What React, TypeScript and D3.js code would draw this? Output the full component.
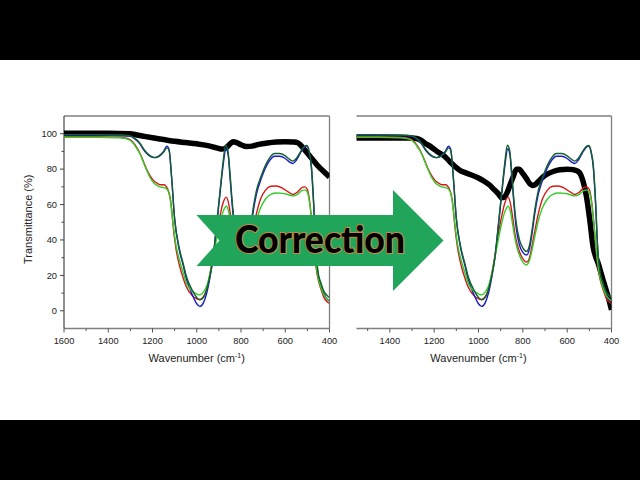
import React from 'react';
import * as d3 from 'd3';

// ---- tick labels ----
const xMajorTicks = [1600, 1400, 1200, 1000, 800, 600, 400];
const xMinorTicks = [1500, 1300, 1100, 900, 700, 500];
const yMajorTicks = [0, 20, 40, 60, 80, 100];
const yMinorTicks = [10, 30, 50, 70, 90];

// ---- series: [wavenumber, transmittance] ----
const darkGreen: [number, number][] = [
  [1600, 99.5], [1450, 99.5], [1350, 99.3], [1300, 98.8], [1280, 97.5], [1257, 94.7], [1235, 90.5], [1210, 87.5],
  [1190, 86.5], [1170, 87.2], [1150, 89.5], [1135, 92], [1125, 90.5], [1114, 76], [1100, 52], [1080, 36], [1060, 26],
  [1047, 19.5], [1020, 11.5], [1000, 7.5], [986, 6.2], [970, 7.5], [955, 12], [940, 20], [926, 30], [911, 48],
  [896, 66], [881, 84], [870, 93.5], [860, 91], [850, 78], [840, 62], [830, 50], [815, 40], [800, 35.5], [783, 33.5],
  [770, 37], [758, 46], [746, 57], [730, 68], [709, 76], [690, 82], [670, 86.5], [648, 88.8], [625, 88.8], [600, 87.5],
  [580, 85.5], [566, 84.5], [550, 86], [530, 90], [512, 93], [502, 93.3], [492, 90], [482, 82], [472, 62], [462, 35],
  [452, 22], [438, 15.5], [423, 10.5], [410, 8.5], [400, 7.5],
];
const blue: [number, number][] = [
  [1600, 99.2], [1450, 99.2], [1350, 99], [1300, 98.5], [1280, 97], [1257, 94.3], [1235, 90], [1210, 87.2],
  [1190, 86.5], [1170, 87.5], [1150, 90], [1135, 93], [1125, 91], [1114, 76], [1100, 52], [1080, 35], [1060, 25],
  [1047, 18], [1020, 9], [1000, 4], [986, 2.5], [970, 4.5], [955, 10], [940, 19], [926, 30], [911, 47], [896, 65],
  [881, 82], [868, 91.5], [858, 88], [850, 76], [840, 60], [830, 47], [815, 37], [800, 33], [783, 31.5], [770, 35],
  [758, 44], [746, 55], [730, 66], [709, 74.5], [690, 80.5], [670, 85], [648, 87.3], [625, 87.3], [600, 86],
  [580, 84], [566, 83.2], [550, 85], [530, 89.5], [512, 92.5], [502, 93], [492, 89.5], [482, 81], [472, 61],
  [462, 34], [452, 21], [438, 14], [423, 9], [410, 6.5], [400, 5.5],
];
const red: [number, number][] = [
  [1600, 98.3], [1450, 98.3], [1350, 98], [1310, 97.2], [1290, 95.5], [1270, 92], [1257, 89], [1240, 84], [1227, 80],
  [1210, 76], [1195, 73.5], [1182, 72.3], [1165, 71.2], [1148, 71.2], [1140, 70.5], [1132, 69], [1122, 65],
  [1114, 58], [1107, 48], [1095, 36], [1077, 25], [1060, 18], [1047, 13.6], [1020, 8.5], [1000, 6.8], [986, 6.4],
  [970, 8], [955, 12], [940, 21], [926, 31], [911, 43], [896, 53], [881, 61], [866, 64.2], [855, 60], [845, 52],
  [835, 43], [820, 35], [800, 29.5], [783, 27.5], [770, 30], [758, 37], [746, 45], [730, 55], [712, 63], [690, 68],
  [665, 70.3], [640, 70.5], [610, 69], [585, 67], [565, 65.7], [545, 67], [525, 69.5], [512, 70], [500, 68.5],
  [490, 62], [480, 50], [470, 35], [460, 24], [450, 17], [438, 12], [423, 7], [410, 5], [400, 4.2],
];
const lightGreen: [number, number][] = [
  [1600, 98], [1450, 98], [1350, 97.7], [1310, 96.8], [1290, 95], [1270, 91.5], [1257, 88.7], [1240, 83.5],
  [1227, 79.6], [1210, 75], [1195, 72.3], [1182, 71], [1165, 70], [1148, 69.5], [1135, 68.7], [1127, 67],
  [1120, 63], [1113, 56], [1107, 49.5], [1095, 38], [1077, 28], [1060, 21], [1047, 15.7], [1020, 11], [1000, 9.5],
  [986, 9], [970, 10.5], [955, 14], [940, 21], [926, 30], [911, 40], [896, 49], [881, 56], [866, 59], [855, 55.5],
  [845, 48], [835, 40.5], [820, 33], [800, 27.5], [783, 25.9], [770, 28.5], [758, 34.5], [746, 42], [730, 51],
  [712, 58], [690, 63], [665, 65.8], [640, 66.5], [610, 66.3], [585, 65.5], [565, 64.9], [545, 65.8], [525, 67.8],
  [512, 68.3], [500, 67], [490, 61], [480, 50], [470, 36], [460, 25], [450, 18], [438, 13], [423, 8.5], [410, 6.5],
  [400, 5.5],
];
const blackBefore: [number, number][] = [
  [1600, 100.2], [1400, 100.2], [1300, 100], [1270, 99.3], [1240, 98.6], [1200, 97.7], [1150, 96.7], [1100, 95.7],
  [1050, 95], [1000, 94.3], [950, 93.3], [910, 92], [885, 91.3], [865, 92.3], [850, 94.2], [835, 95.5], [820, 95],
  [800, 93.8], [775, 92.8], [750, 93], [720, 94], [680, 94.8], [640, 95.3], [600, 95.5], [565, 95.3], [545, 95],
  [530, 93.5], [510, 90.5], [490, 87.5], [475, 85.3], [450, 81.5], [425, 78.5], [400, 75.5],
];
const blackAfter: [number, number][] = [
  [1600, 97.6], [1400, 97.6], [1300, 97.6], [1280, 97.3], [1260, 96.3], [1240, 94.5], [1219, 93], [1200, 91.2],
  [1175, 89], [1160, 88], [1130, 84.3], [1100, 80.8], [1084, 79.3], [1060, 78], [1039, 77], [1000, 75], [979, 73.5],
  [950, 71], [934, 69], [910, 66], [896, 63.8], [885, 64], [870, 67], [855, 72], [844, 75.5], [829, 80], [817, 80],
  [800, 77.5], [783, 74.5], [770, 72], [758, 70.8], [745, 71.2], [730, 73], [710, 75.5], [693, 77], [660, 78.8],
  [633, 79.6], [600, 80], [573, 79.7], [555, 79], [543, 77.8], [528, 73], [513, 64.5], [498, 51.3], [483, 36.2],
  [470, 30], [460, 26.8], [450, 22.5], [438, 17.4], [415, 7.9], [400, 0.5],
];

const colored = [
  { name: 'red', data: red, color: '#d81818' },
  { name: 'blue', data: blue, color: '#1a1acc' },
  { name: 'lightGreen', data: lightGreen, color: '#33cc2a' },
  { name: 'darkGreen', data: darkGreen, color: '#14602a' },
];

const TOP = 116;
const BOTTOM = 328.5;
const FONT = '"Liberation Sans", Arial, sans-serif';

type PanelProps = {
  id: string;
  x0: number;
  x1: number;
  clipX: number;
  black: [number, number][];
  yAxis: boolean;
  labelTicks: number[];
};

function Panel({ id, x0, x1, clipX, black, yAxis, labelTicks }: PanelProps) {
  const x = d3.scaleLinear().domain([1600, 400]).range([x0, x1]);
  const y = d3.scaleLinear().domain([-10, 110]).range([BOTTOM, TOP]);
  const line = d3
    .line<[number, number]>()
    .x((d) => x(d[0]))
    .y((d) => y(d[1]))
    .curve(d3.curveMonotoneX);
  const frameColor = '#808080';
  const lineStart = Math.max(x0, clipX);
  return (
    <g>
      <defs>
        <clipPath id={`plot-${id}`}>
          <rect x={lineStart} y={TOP} width={x1 - lineStart} height={BOTTOM - TOP} />
        </clipPath>
      </defs>
      {/* frame */}
      <line x1={lineStart} x2={x1} y1={TOP} y2={TOP} stroke={frameColor} strokeWidth={1.3} />
      <line x1={x1} x2={x1} y1={TOP} y2={BOTTOM} stroke={frameColor} strokeWidth={1.3} />
      <line x1={lineStart} x2={x1} y1={BOTTOM} y2={BOTTOM} stroke={frameColor} strokeWidth={1.6} />
      {yAxis && <line x1={x0} x2={x0} y1={TOP} y2={BOTTOM} stroke="#333" strokeWidth={1.1} />}
      {xMajorTicks
        .filter((t) => x(t) >= lineStart)
        .map((t) => (
          <line key={`xM${t}`} x1={x(t)} x2={x(t)} y1={BOTTOM} y2={BOTTOM + 4} stroke="#555" strokeWidth={1} />
        ))}
      {labelTicks.map((t) => (
        <text key={`xl${t}`} x={x(t)} y={343.5} textAnchor="middle" fontSize={9.3} fontFamily={FONT} fill="#222">
          {t}
        </text>
      ))}
      {xMinorTicks
        .filter((t) => x(t) >= lineStart)
        .map((t) => (
          <line key={`xm${t}`} x1={x(t)} x2={x(t)} y1={BOTTOM} y2={BOTTOM + 2.5} stroke="#555" strokeWidth={1} />
        ))}
      {yAxis &&
        yMajorTicks.map((t) => (
          <g key={`yM${t}`}>
            <line x1={x0 - 4} x2={x0} y1={y(t)} y2={y(t)} stroke="#444" strokeWidth={1} />
            <text x={57} y={y(t) + 3.3} textAnchor="end" fontSize={9.3} fontFamily={FONT} fill="#222">
              {t}
            </text>
          </g>
        ))}
      {yAxis &&
        yMinorTicks.map((t) => (
          <line key={`ym${t}`} x1={x0 - 2.5} x2={x0} y1={y(t)} y2={y(t)} stroke="#444" strokeWidth={1} />
        ))}
      <g clipPath={`url(#plot-${id})`}>
        <path d={line(black) || ''} fill="none" stroke="#000" strokeWidth={5.5} strokeLinejoin="round" />
        {colored.map((s) => (
          <path key={s.name} d={line(s.data) || ''} fill="none" stroke={s.color} strokeWidth={1.4} />
        ))}
      </g>
      <text x={(x0 + x1) / 2} y={362} textAnchor="middle" fontSize={11} fontFamily={FONT} fill="#222">
        Wavenumber (cm
        <tspan fontSize={7} dy={-4}>-1</tspan>
        <tspan dy={4}>)</tspan>
      </text>
      {yAxis && (
        <text
          transform={`translate(32, ${(TOP + BOTTOM) / 2 - 3}) rotate(-90)`}
          textAnchor="middle"
          fontSize={11}
          fontFamily={FONT}
          fill="#222"
        >
          Transmittance (%)
        </text>
      )}
    </g>
  );
}

export default function App() {
  return (
    <svg width={640} height={480} style={{ position: 'absolute', left: 0, top: 0, background: '#fff' }}>
      <rect x={0} y={0} width={640} height={480} fill="#fff" />
      <rect x={0} y={0} width={640} height={60} fill="#000" />
      <rect x={0} y={420} width={640} height={60} fill="#000" />
      <Panel id="before" x0={64} x1={329.5} clipX={64} black={blackBefore} yAxis={true} labelTicks={xMajorTicks} />
      <Panel
        id="after"
        x0={345.5}
        x1={611.5}
        clipX={356.5}
        black={blackAfter}
        yAxis={false}
        labelTicks={xMajorTicks.slice(1)}
      />
      <polygon
        points="196.5,215 393,215 393,190 443.5,240.5 393,291 393,266 196.5,266 219.5,240.5"
        fill="#21a55a"
      />
      <text
        x={320}
        y={253}
        textAnchor="middle"
        fontFamily="Lato, 'Open Sans', sans-serif"
        fontWeight={900}
        fontSize={37}
        textLength={170}
        lengthAdjust="spacingAndGlyphs"
        fill="#000"
        stroke="#c98a45"
        strokeWidth={2}
        paintOrder="stroke"
      >
        Correction
      </text>
    </svg>
  );
}
